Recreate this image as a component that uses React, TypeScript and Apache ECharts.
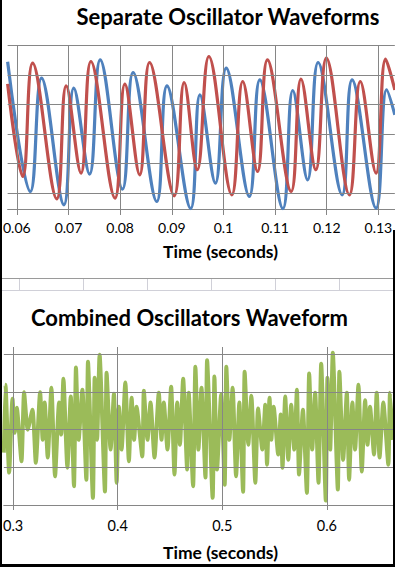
import React, { useEffect, useRef } from "react";
import * as echarts from "echarts";

// ---------- Top chart: separate oscillators ----------
const topTickValues = [0.06, 0.07, 0.08, 0.09, 0.1, 0.11, 0.12, 0.13];
const topGridValues = [1.5, 1, 0.5, 0, -0.5, -1];

const blueTimes = [
  0.05822, 0.06262, 0.06478, 0.06912, 0.07103, 0.07409, 0.07614, 0.08046, 0.08251, 0.0871,
  0.08907, 0.09366, 0.09546, 0.09844, 0.10054, 0.10502, 0.10705, 0.11152, 0.11343, 0.1163,
  0.11833, 0.12299, 0.12491, 0.12955, 0.1316, 0.13319,
];
const blueValues = [
  1.227, -0.971, 0.951, -1.197, 0.781, -0.676, 1.261, -0.931, 1.046, -1.141,
  0.82, -1.26, 0.668, -0.829, 1.12, -1.056, 0.922, -1.26, 0.741, -0.773,
  1.215, -1.027, 0.922, -1.253, 0.753, 0.329,
];

const redTimes = [
  0.05822, 0.06115, 0.06306, 0.06773, 0.06956, 0.07243, 0.07434, 0.07901, 0.08092, 0.08379,
  0.0857, 0.09048, 0.0924, 0.09494, 0.09718, 0.10163, 0.10374, 0.10661, 0.10852, 0.11311,
  0.11502, 0.11789, 0.11993, 0.12439, 0.1265, 0.12955, 0.13141, 0.13319,
];
const redValues = [
  0.854, -0.717, 1.205, -1.095, 0.82, -0.659, 1.232, -1.083, 0.849, -0.688,
  1.215, -1.044, 0.876, -0.603, 1.317, -1.027, 0.893, -0.632, 1.261, -0.971,
  0.934, -0.603, 1.29, -1.027, 0.893, -0.659, 1.273, 0.75,
];

// ---------- Bottom chart: combined waveform ----------
const bottomTickValues = [0.3, 0.4, 0.5, 0.6];
const bottomGridValues = [2, 1, 0, -1, -2];

const greenTimes = [
  0.2911, 0.2927, 0.2962, 0.2994, 0.3016, 0.3035, 0.308, 0.3105, 0.314, 0.3185,
  0.3217, 0.3258, 0.3283, 0.3302, 0.3331, 0.3366, 0.3401, 0.3439, 0.346, 0.3481,
  0.3519, 0.3551, 0.3582, 0.3601, 0.3627, 0.3662, 0.37, 0.3716, 0.3763, 0.378,
  0.3803, 0.3827, 0.3878, 0.3894, 0.3932, 0.3964, 0.399, 0.4011, 0.4037, 0.4073,
  0.4107, 0.4133, 0.4157, 0.418, 0.4235, 0.425, 0.4285, 0.4314, 0.4352, 0.4393,
  0.4419, 0.4441, 0.4476, 0.4511, 0.4543, 0.4569, 0.4595, 0.4626, 0.4664, 0.4679,
  0.4721, 0.4743, 0.4772, 0.4801, 0.4839, 0.4855, 0.4908, 0.4925, 0.495, 0.4989,
  0.5023, 0.5039, 0.5068, 0.5099, 0.5132, 0.5163, 0.5199, 0.5214, 0.5249, 0.5278,
  0.5316, 0.5342, 0.5383, 0.5411, 0.5428, 0.5452, 0.5469, 0.5491, 0.5535, 0.5559,
  0.5576, 0.5602, 0.5631, 0.5659, 0.5688, 0.5714, 0.5734, 0.5771, 0.5809, 0.5831,
  0.586, 0.5888, 0.592, 0.5946, 0.599, 0.6006, 0.6032, 0.6057, 0.6105, 0.612,
  0.6156, 0.6191, 0.6213, 0.6244, 0.627, 0.6302, 0.6334, 0.6366, 0.6389, 0.6413,
  0.6451, 0.6477, 0.6504, 0.654, 0.6588, 0.6604, 0.6633,
];
const greenValues = [
  -0.61, 1.19, -1.14, 0.82, -0.08, 0.58, -0.84, 0.99, 0.0, 0.53,
  -0.88, 0.99, -0.27, 0.72, -0.74, 1.11, -1.24, 0.72, -0.13, 1.35,
  -1.01, 0.88, -1.5, 1.65, -0.27, 1.06, -1.33, 1.8, -1.81, 1.38,
  -0.27, 1.99, -1.64, 1.51, -0.53, 0.95, -1.41, 0.61, -0.53, 1.25,
  -0.84, 0.85, -0.27, 0.61, -0.71, 1.03, -0.27, 0.72, -0.74, 0.98,
  -0.27, 0.72, -0.53, 1.14, -1.19, 0.72, -0.4, 1.35, -1.06, 0.98,
  -1.5, 1.67, -0.53, 1.11, -1.27, 1.84, -1.81, 1.41, -1.06, 0.93,
  -1.46, 1.67, -0.27, 1.11, -1.24, 0.72, -1.65, 1.54, -0.4, 0.9,
  -1.41, 0.56, -0.53, 0.66, -0.93, 0.85, -0.27, 0.61, -0.66, 0.4,
  -1.01, 0.88, -0.8, 0.66, -0.53, 1.06, -1.19, 0.53, -1.68, 1.49,
  -0.53, 0.98, -1.41, 1.75, -1.88, 1.38, -0.53, 2.04, -1.59, 1.54,
  -0.8, 0.98, -1.33, 0.72, -0.53, 1.19, -1.11, 0.78, -0.4, 0.61,
  -0.66, 0.98, -0.74, 0.72, -0.93, 0.98, -0.27,
];

const GRID_COLOR = "#868686";
const LABEL_FONT = "Lato";

function fmt(v: number) {
  return String(parseFloat(v.toFixed(2)));
}

function gridLineSeries(xIdx: number, xs: number[], ys: number[]) {
  return {
    type: "line",
    xAxisIndex: xIdx,
    yAxisIndex: xIdx,
    data: [],
    silent: true,
    z: 1,
    markLine: {
      silent: true,
      symbol: ["none", "none"],
      label: { show: false },
      emphasis: { disabled: true },
      animation: false,
      lineStyle: { color: GRID_COLOR, width: 1, type: "solid" },
      data: [...ys.map((v) => ({ yAxis: v })), ...xs.map((v) => ({ xAxis: v }))],
    },
  };
}

function titleText(text: string, x: number, y: number, size: number) {
  return {
    type: "text",
    x,
    y,
    style: {
      text,
      font: `bold ${size}px Lato`,
      fill: "#000",
      textAlign: "center",
      textVerticalAlign: "middle",
    },
  };
}

export default function App() {
  const ref = useRef<HTMLDivElement>(null);
  useEffect(() => {
    const chart = echarts.init(ref.current!, undefined, { renderer: "svg" });
    const option: any = {
      animation: false,
      backgroundColor: "#ffffff",
      grid: [
        { left: 3, top: 45.7, width: 392, height: 163.3 },
        { left: 3, top: 347, width: 390, height: 158 },
      ],
      xAxis: [
        {
          gridIndex: 0,
          type: "value",
          min: 0.05822,
          max: 0.13319,
          axisLine: { show: true, onZero: false, lineStyle: { color: GRID_COLOR, width: 1 } },
          axisTick: { show: true, customValues: topTickValues, length: 6, lineStyle: { color: GRID_COLOR } },
          axisLabel: {
            customValues: topTickValues,
            formatter: fmt,
            fontFamily: LABEL_FONT,
            fontSize: 14,
            color: "#000",
            margin: 11,
          },
          splitLine: { show: false },
        },
        {
          gridIndex: 1,
          type: "value",
          min: 0.29113,
          max: 0.66326,
          axisLine: { show: true, onZero: false, lineStyle: { color: GRID_COLOR, width: 1 } },
          axisTick: { show: true, customValues: bottomTickValues, length: 5, lineStyle: { color: GRID_COLOR } },
          axisLabel: {
            customValues: bottomTickValues,
            formatter: fmt,
            fontFamily: LABEL_FONT,
            fontSize: 14.5,
            color: "#000",
            margin: 13,
          },
          splitLine: { show: false },
        },
      ],
      yAxis: [
        { gridIndex: 0, type: "value", min: -1.268, max: 1.5, show: false },
        { gridIndex: 1, type: "value", min: -2, max: 2.194, show: false },
      ],
      series: [
        gridLineSeries(0, topTickValues, topGridValues),
        gridLineSeries(1, bottomTickValues, bottomGridValues),
        {
          name: "Oscillator 1",
          type: "line",
          xAxisIndex: 0,
          yAxisIndex: 0,
          smooth: 0.4,
          showSymbol: false,
          z: 3,
          lineStyle: { color: "#4F81BD", width: 3.2 },
          data: blueTimes.map((t, i) => [t, blueValues[i]]),
        },
        {
          name: "Oscillator 2",
          type: "line",
          xAxisIndex: 0,
          yAxisIndex: 0,
          smooth: 0.4,
          showSymbol: false,
          z: 4,
          lineStyle: { color: "#C0504D", width: 3.2 },
          data: redTimes.map((t, i) => [t, redValues[i]]),
        },
        {
          name: "Combined",
          type: "line",
          xAxisIndex: 1,
          yAxisIndex: 1,
          smooth: 0.2,
          showSymbol: false,
          z: 3,
          lineStyle: { color: "#9BBB59", width: 4 },
          data: greenTimes.map((t, i) => [t, greenValues[i]]),
        },
      ],
      graphic: [
        titleText("Separate Oscillator Waveforms", 228, 16, 22),
        titleText("Time (seconds)", 220.5, 251, 17.5),
        { type: "line", shape: { x1: 2, y1: 278.5, x2: 393, y2: 278.5 }, style: { stroke: "#9a9a9a", lineWidth: 1 } },
        { type: "line", shape: { x1: 2, y1: 290.5, x2: 393, y2: 290.5 }, style: { stroke: "#d0d0d8", lineWidth: 1 } },
        ...[19.5, 83.5, 147.5, 211.5, 275.5, 339.5].map((x) => ({
          type: "line",
          shape: { x1: x, y1: 279, x2: x, y2: 290 },
          style: { stroke: "#d0d0d8", lineWidth: 1 },
        })),
        titleText("Combined Oscillators Waveform", 189.5, 317, 22),
        titleText("Time (seconds)", 220.5, 552, 17.5),
        { type: "rect", z: 100, shape: { x: 0, y: 0, width: 2, height: 567 }, style: { fill: "#000" } },
        { type: "rect", z: 100, shape: { x: 393, y: 230, width: 2, height: 337 }, style: { fill: "#000" } },
        { type: "rect", z: 100, shape: { x: 0, y: 564, width: 395, height: 3 }, style: { fill: "#000" } },
      ],
    };
    chart.setOption(option);
    return () => chart.dispose();
  }, []);
  return (
    <div
      ref={ref}
      style={{ position: "fixed", left: 0, top: 0, width: 395, height: 567, background: "#fff" }}
    />
  );
}
